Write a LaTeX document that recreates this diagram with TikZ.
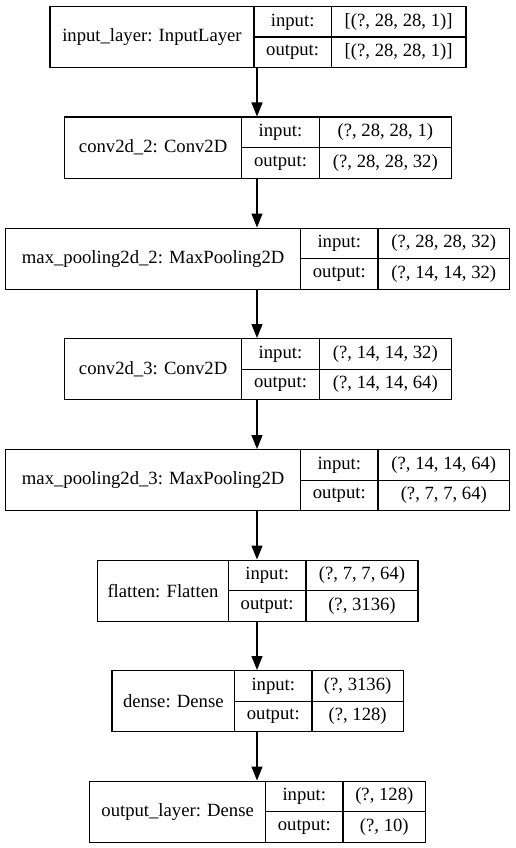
\documentclass[tikz,border=0pt]{standalone}
\usepackage{fontspec}
\setmainfont{Liberation Serif}
\usetikzlibrary{arrows.meta, positioning, calc}

% one layer: name cell, then input/output labels and their shapes
\newcommand{\layerbox}[9]{%
	\node[cell, minimum width={(#4-#3)*1pt}, minimum height=61pt] (#1) at (#3,#2) {#7};
	\node[cell, minimum width={(#5-#4)*1pt}, minimum height=30.5pt] (#1-in) at (#4,#2) {input:};
	\node[cell, minimum width={(#6-#5)*1pt}, minimum height=30.5pt] (#1-inval) at (#5,#2) {#8};
	\node[cell, minimum width={(#5-#4)*1pt}, minimum height=30.5pt] (#1-out) at (#4,{#2+30.5}) {output:};
	\node[cell, minimum width={(#6-#5)*1pt}, minimum height=30.5pt] (#1-outval) at (#5,{#2+30.5}) {#9};
}

\begin{document}
\begin{tikzpicture}[x=1pt, y=-1pt, >=stealth]
		
		% Define styles
		\tikzstyle{cell} = [rectangle, draw, line width=1.3pt, inner sep=0pt, anchor=north west, text centered, font=\fontsize{18.67}{22}\selectfont]
		\tikzstyle{arr} = [line width=1.3pt, -{Triangle[length=14pt, width=11pt]}]
		
		\useasboundingbox (0,0) rectangle (515,848);
		\coordinate (mid) at (257,0);
		
		% Layers
		\layerbox{inlayer}{6}{49.3}{253.3}{330.7}{465.3}{input\_layer: InputLayer}{[(?, 28, 28, 1)]}{[(?, 28, 28, 1)]}
		\layerbox{convA}{116.5}{64}{241}{318.7}{450.7}{conv2d\_2: Conv2D}{(?, 28, 28, 1)}{(?, 28, 28, 32)}
		\layerbox{poolA}{227.5}{5}{300}{377.3}{509}{max\_pooling2d\_2: MaxPooling2D}{(?, 28, 28, 32)}{(?, 14, 14, 32)}
		\layerbox{convB}{338}{64}{241}{318.7}{450.7}{conv2d\_3: Conv2D}{(?, 14, 14, 32)}{(?, 14, 14, 64)}
		\layerbox{poolB}{449}{5}{300}{377.3}{509}{max\_pooling2d\_3: MaxPooling2D}{(?, 14, 14, 64)}{(?, 7, 7, 64)}
		\layerbox{flat}{559.5}{97}{227.7}{305.3}{417.3}{flatten: Flatten}{(?, 7, 7, 64)}{(?, 3136)}
		\layerbox{dense}{670}{111.3}{234}{311.3}{402.7}{dense: Dense}{(?, 3136)}{(?, 128)}
		\layerbox{outlayer}{780.5}{89}{265}{342.3}{425}{output\_layer: Dense}{(?, 128)}{(?, 10)}
		
		% Arrows
		\draw[arr] (inlayer.south -| mid) -- (convA.north -| mid);
		\draw[arr] (convA.south -| mid) -- (poolA.north -| mid);
		\draw[arr] (poolA.south -| mid) -- (convB.north -| mid);
		\draw[arr] (convB.south -| mid) -- (poolB.north -| mid);
		\draw[arr] (poolB.south -| mid) -- (flat.north -| mid);
		\draw[arr] (flat.south -| mid) -- (dense.north -| mid);
		\draw[arr] (dense.south -| mid) -- (outlayer.north -| mid);
		
	\end{tikzpicture}
\end{document}
